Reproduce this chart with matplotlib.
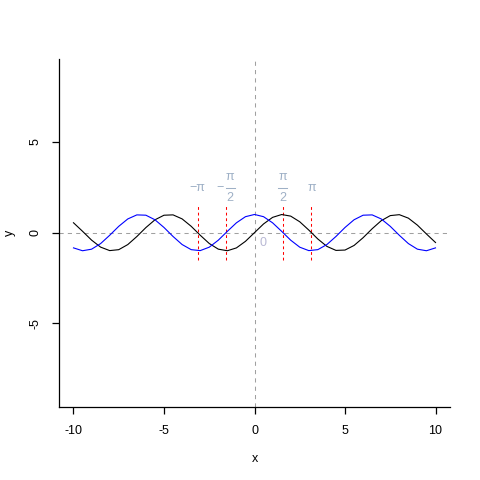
import matplotlib
matplotlib.use("Agg")
import matplotlib.pyplot as plt

plt.rcParams['font.family'] = ['Liberation Sans', 'DejaVu Sans']

# curve samples (step 0.5)
x_vals = [-10 + 0.5 * i for i in range(41)]
sin_vals = [0.544, 0.075, -0.412, -0.798, -0.989, -0.938, -0.657, -0.215, 0.279, 0.706,
            0.959, 0.978, 0.757, 0.351, -0.141, -0.598, -0.909, -0.997, -0.841, -0.479,
            0.000, 0.479, 0.841, 0.997, 0.909, 0.598, 0.141, -0.351, -0.757, -0.978,
            -0.959, -0.706, -0.279, 0.215, 0.657, 0.938, 0.989, 0.798, 0.412, -0.075,
            -0.544]
cos_vals = [-0.839, -0.997, -0.911, -0.602, -0.146, 0.347, 0.754, 0.977, 0.960, 0.709,
            0.284, -0.211, -0.654, -0.936, -0.990, -0.801, -0.416, 0.071, 0.540, 0.878,
            1.000, 0.878, 0.540, 0.071, -0.416, -0.801, -0.990, -0.936, -0.654, -0.211,
            0.284, 0.709, 0.960, 0.977, 0.754, 0.347, -0.146, -0.602, -0.911, -0.997,
            -0.839]

# marked positions: (x, sign, is_fraction)
mark_x = [-3.14159, -1.5708, 1.5708, 3.14159]
mark_neg = [True, True, False, False]
mark_frac = [False, True, True, False]
seg_lo, seg_hi = -1.5, 1.5
label_y = 2.45

x_ticks = [-10, -5, 0, 5, 10]
y_ticks = [-5, 0, 5]

lab_col = '#9eb0c6'
fs = 9

fig = plt.figure(figsize=(4.8, 4.8), dpi=100)
ax = fig.add_axes([59 / 480, 73 / 480, 391 / 480, 348 / 480])

ax.axhline(0, color='#a0a0a0', lw=0.75, dashes=(4, 4), zorder=1)
ax.axvline(0, color='#a0a0a0', lw=0.75, dashes=(4, 4), zorder=1)

ax.plot(x_vals, sin_vals, color='black', lw=0.8, zorder=3)
ax.plot(x_vals, cos_vals, color='blue', lw=0.8, zorder=3)

ax.vlines(mark_x, seg_lo, seg_hi, colors='red', lw=0.75, linestyles=(0, (2.7, 2.7)), zorder=2)

# pi labels, fractions drawn as numerator / bar / denominator
for mx, neg, frac in zip(mark_x, mark_neg, mark_frac):
    if frac:
        cx = mx + 0.22 if neg else mx
        ax.text(cx, label_y + 0.6, '\u03c0', color=lab_col, fontsize=fs, ha='center', va='center')
        ax.plot([cx - 0.25, cx + 0.25], [label_y + 0.02, label_y + 0.02], color=lab_col, lw=0.75)
        ax.text(cx, label_y - 0.55, '2', color=lab_col, fontsize=fs, ha='center', va='center')
        if neg:
            ax.text(mx - 0.32, label_y, '\u2212', color=lab_col, fontsize=fs, ha='center', va='center')
    else:
        lab = ('\u2212' if neg else '') + '\u03c0'
        ax.text(mx, label_y, lab, color=lab_col, fontsize=fs, ha='center', va='center')

ax.text(0.45, -0.55, '0', color='#b8b8d4', fontsize=fs, ha='center', va='center')

ax.set_xlim(-10.8, 10.8)
ax.set_ylim(-9.6, 9.56)
ax.set_xticks(x_ticks)
ax.set_yticks(y_ticks)
ax.set_xticklabels([str(t) for t in x_ticks])
ax.set_yticklabels([str(t) for t in y_ticks], rotation=90, va='center')

ax.spines['top'].set_visible(False)
ax.spines['right'].set_visible(False)
for s in ['left', 'bottom']:
    ax.spines[s].set_linewidth(0.9)
ax.tick_params(axis='both', direction='out', length=5.2, width=0.9, labelsize=fs, pad=7.5)

ax.set_xlabel('x', fontsize=fs, labelpad=12)
ax.set_ylabel('y', fontsize=fs, labelpad=10)

fig.savefig('out.png', dpi=100)
